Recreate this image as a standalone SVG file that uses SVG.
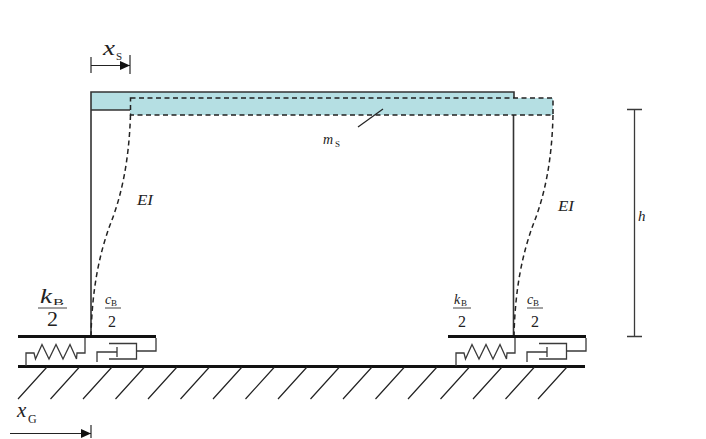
<svg xmlns="http://www.w3.org/2000/svg" width="706" height="439" viewBox="0 0 706 439">
<style>
.l{fill:none;stroke:#3a3a3a;stroke-width:1.3}
.m{fill:none;stroke:#333;stroke-width:1.6}
.k{fill:none;stroke:#111;stroke-width:3.2}
.d{fill:none;stroke:#222;stroke-width:1.5;stroke-dasharray:5 3.5}
.h{fill:none;stroke:#222;stroke-width:1.2}
.f{fill:none;stroke:#444;stroke-width:1}
text{font-family:"Liberation Serif","DejaVu Serif",serif;fill:#222}
.i{font-style:italic}
.s{font-size:9px}
.t{font-size:15px}
</style>
<defs>
<marker id="a" markerWidth="10" markerHeight="9" refX="10" refY="4.500" orient="auto" markerUnits="userSpaceOnUse"><path d="M0 0L10 4.500L0 9Z" fill="#111"/></marker>
<g id="sd">
<path class="l" d="M26 366V353H34L35.500 359L42 344.500L49 359L56 344.500L63 359L70 344.500L76.500 359L77 353H85V338"/>
<path class="l" d="M97 362V352H117M117 347V357M109 343.500H136.500V359H109M136.500 351H156V338V349"/>
</g>
</defs>
<g id="slab">
<path fill="#b5dfe3" d="M91 92H514V98H553V115H130V110H91Z"/>
<path class="m" d="M91 336V92H514V98M91 110H130M513.500 115V336"/>
</g>
<g id="deflected">
<rect class="d" x="130.500" y="98" width="422.500" height="17"/>
<path class="d" d="M130.500 115C129 160 122 195 110 225C99 255 92 290 91 336"/>
<path class="d" d="M553 115C552 160 545 195 533 225C522 255 515 290 514 336"/>
</g>
<g id="ground">
<path class="k" d="M18 366.500H585"/>
<path class="h" d="M47 367L18 399M79.500 367L50.500 399M112 367L83 399M144.500 367L115.500 399M177 367L148 399M209.500 367L180.500 399M242 367L213 399M274.500 367L245.500 399M307 367L278 399M339.500 367L310.500 399M372 367L343 399M404.500 367L375.500 399M437 367L408 399M469.500 367L440.500 399M502 367L473 399M534.500 367L505.500 399M567 367L538 399"/>
</g>
<g id="base-left">
<path class="k" d="M18 336.500H156"/>
<use href="#sd"/>
</g>
<g id="base-right">
<path class="k" d="M448 336.500H586"/>
<use href="#sd" x="430"/>
</g>
<g id="connectors">
<path class="h" d="M358 127L383 109"/>
<path class="l" d="M91 57V73M130 55V74"/>
<path class="h" d="M91 65.500H130" marker-end="url(#a)"/>
<path class="l" d="M91 425V438"/>
<path class="h" d="M10 433.500H91" marker-end="url(#a)"/>
<path class="l" d="M627 109.500H642M634.500 109.500V336.500M627 336.500H642"/>
<path class="f" d="M38 308H67M105 308H121M453 308H471M527 308H543"/>
</g>
<g id="labels">
<text class="i" x="103" y="55" font-size="22" textLength="12" lengthAdjust="spacingAndGlyphs">x</text><text x="116" y="60" font-size="11">S</text>
<text class="i" x="323" y="144" font-size="14">m</text><text x="335" y="147" class="s">S</text>
<text class="i t" x="137" y="205" textLength="16" lengthAdjust="spacingAndGlyphs">EI</text>
<text class="i t" x="558" y="211" textLength="16" lengthAdjust="spacingAndGlyphs">EI</text>
<text class="i t" x="638" y="221">h</text>
<text class="i" x="40" y="303" font-size="21" textLength="12" lengthAdjust="spacingAndGlyphs">k</text><text x="53" y="305" font-size="9" textLength="11" lengthAdjust="spacingAndGlyphs">B</text>
<text x="47" y="326" font-size="20" textLength="11" lengthAdjust="spacingAndGlyphs">2</text>
<text class="i" x="105" y="304" font-size="14">c</text><text x="111" y="306" class="s">B</text>
<text x="108" y="327" font-size="16">2</text>
<text class="i" x="454" y="304" font-size="14">k</text><text x="461" y="306" class="s">B</text>
<text x="458" y="327" font-size="16">2</text>
<text class="i" x="527" y="304" font-size="14">c</text><text x="533" y="306" class="s">B</text>
<text x="531" y="327" font-size="16">2</text>
<text class="i" x="17" y="417" font-size="21">x</text><text x="28" y="423" font-size="12">G</text>
</g>
</svg>
